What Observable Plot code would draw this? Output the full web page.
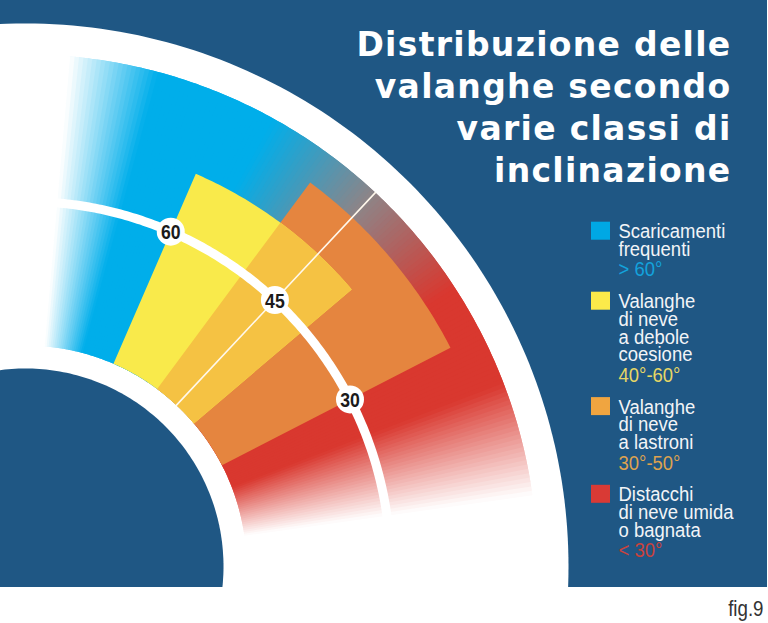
<!DOCTYPE html>
<html>
<head>
<meta charset="utf-8">
<script src="https://cdn.jsdelivr.net/npm/d3@7"></script>
<script src="https://cdn.jsdelivr.net/npm/@observablehq/plot@0.6"></script>
<style>
  html, body { margin: 0; padding: 0; background: #ffffff; }
  #chart svg { display: block; }
</style>
</head>
<body>
<div id="chart"></div>
<script>
// ---------------- data ----------------
const classLines = [
  ["Scaricamenti", "frequenti"],
  ["Valanghe", "di neve", "a debole", "coesione"],
  ["Valanghe", "di neve", "a lastroni"],
  ["Distacchi", "di neve umida", "o bagnata"]
];
const classRanges = ["> 60°", "40°-60°", "30°-50°", "< 30°"];
const classMin = [60, 40, 30, 0];
const classMax = [90, 60, 50, 30];
const classColors = ["#00AEEA", "#F9EA4B", "#E5853F", "#D9382F"];
const legendColors = ["#00A8E4", "#FCEA4A", "#F0A540", "#D93A35"];
const rangeTextColors = ["#13A2DC", "#E6D665", "#DDA250", "#C9423C"];
const overlapColor = "#F5C243";
const slopeTicks = [60, 45, 30];
const guideSlope = 45;
const titleLines = ["Distribuzione delle", "valanghe secondo", "varie classi di", "inclinazione"];
const figLabel = "fig.9";

// ---------------- layout ----------------
const W = 768, H = 623;
const BG = "#1F5784";
const CX = 25, CY = 566;            // centre of the quarter-circle diagram
const R0 = 198, R1 = 221, RMID = 365, RY = 428, RO = 478, R2 = 512, R3 = 543;
const BLUE_BOTTOM = 587, BLUE_RIGHT = 767;
// slope angle (deg) -> drawing angle (deg)
const phi = d3.scaleLinear().domain([0, 90]).range([-12.05, 105.85]);
const rad = d => d * Math.PI / 180;
const P = (r, a) => [CX + r * Math.cos(rad(a)), CY - r * Math.sin(rad(a))];

function sector(id, r1, r2, a1, a2, color, step = 0.5) {
  const n = Math.max(1, Math.ceil(Math.abs(a2 - a1) / step));
  const pts = [];
  for (let i = 0; i <= n; i++) { const [x, y] = P(r2, a1 + (a2 - a1) * i / n); pts.push({id, x, y, color}); }
  if (r1 > 0) {
    for (let i = n; i >= 0; i--) { const [x, y] = P(r1, a1 + (a2 - a1) * i / n); pts.push({id, x, y, color}); }
  }
  return pts;
}
function arc(id, r, a1, a2, step = 0.5) {
  const n = Math.ceil(Math.abs(a2 - a1) / step);
  return d3.range(n + 1).map(i => { const [x, y] = P(r, a1 + (a2 - a1) * i / n); return {id, x, y}; });
}

// angular colour field behind the wedges (white -> red -> grey -> cyan -> white)
const cyan = classColors[0], red = classColors[3];
const fieldStops = [[-40, "#ffffff"], [8, "#ffffff"], [21, red], [33, red], [47, "#8E8487"], [61, cyan], [75, cyan], [85, "#ffffff"], [140, "#ffffff"]];
function fieldColor(a) {
  for (let i = 0; i < fieldStops.length - 1; i++) {
    const [a0, c0] = fieldStops[i], [a1, c1] = fieldStops[i + 1];
    if (a >= a0 && a <= a1) return d3.interpolateRgb(c0, c1)((a - a0) / (a1 - a0));
  }
  return "#ffffff";
}
const field = [];
const FSTEP = 0.5;
for (let a = -14, k = 0; a < 112; a += FSTEP, k++) {
  // slices overlap their neighbour by one step so no seams show
  field.push(...sector("f" + k, R1, R2, a, a + 2 * FSTEP, fieldColor(a + FSTEP / 2), FSTEP));
}

// class wedges: yellow (40-60), orange (30-50) and their overlap
const wedges = [
  ...sector("orange", R1, RO, phi(classMin[2]), phi(classMax[2]), classColors[2]),
  ...sector("yellow", R1, RY, phi(classMin[1]), phi(classMax[1]), classColors[1]),
  ...sector("overlap", R1, RY, phi(Math.max(classMin[1], classMin[2])), phi(Math.min(classMax[1], classMax[2])), overlapColor)
];
const whiteDisk = sector("wd", 0, R3, 0, 360, "#ffffff", 1);
const blueDisk = sector("bd", 0, R0, 0, 360, BG, 1);
const ring = arc("ring", RMID, -15, 110);
const guide = [P(R1, phi(guideSlope)), P(R2, phi(guideSlope))].map(([x, y]) => ({x, y}));
const ticks = slopeTicks.map(t => { const [x, y] = P(RMID, phi(t)); return {t, x, y}; });

// title
const titleRows = titleLines.map((t, i) => ({t, x: 731, y: 55 + i * 42.3}));

// legend
const legendText = [], legendSw = [];
let yb = 237.7;
classLines.forEach((lines, i) => {
  legendSw.push({x1: 591, x2: 610, y1: yb - 16, y2: yb + 2, color: legendColors[i]});
  lines.forEach(t => { legendText.push({t, x: 618, y: yb, color: "#F2F4F7"}); yb += 17.7; });
  yb += 20.5 - 17.7;
  legendText.push({t: classRanges[i], x: 618, y: yb, color: rangeTextColors[i]});
  yb += 31.8;
});

const SANS = "'Liberation Sans', Arial, Helvetica, sans-serif";

const chart = Plot.plot({
  width: W, height: H, margin: 0,
  x: {domain: [0, W], range: [0, W], axis: null},
  y: {domain: [0, H], range: [0, H], axis: null},
  color: {type: "identity"},
  style: {background: "#ffffff", overflow: "hidden"},
  marks: [
    Plot.rect([{x1: 0, x2: BLUE_RIGHT, y1: 0, y2: BLUE_BOTTOM}], {x1: "x1", x2: "x2", y1: "y1", y2: "y2", fill: BG}),
    Plot.line(whiteDisk, {x: "x", y: "y", z: "id", fill: "color", stroke: "none"}),
    Plot.line(field, {x: "x", y: "y", z: "id", fill: "color", stroke: "none"}),
    Plot.line(wedges, {x: "x", y: "y", z: "id", fill: "color", stroke: "none"}),
    Plot.line(blueDisk, {x: "x", y: "y", z: "id", fill: "color", stroke: "none"}),
    Plot.rect([{x1: 0, x2: W, y1: BLUE_BOTTOM, y2: H}], {x1: "x1", x2: "x2", y1: "y1", y2: "y2", fill: "#ffffff"}),
    Plot.line(guide, {x: "x", y: "y", stroke: "#FFF8EC", strokeWidth: 1.6}),
    Plot.line(ring, {x: "x", y: "y", stroke: "#ffffff", strokeWidth: 9}),
    Plot.dot(ticks, {x: "x", y: "y", r: 14, fill: "#ffffff", stroke: "none"}),
    Plot.text(ticks, {x: "x", y: "y", text: d => String(d.t), fontSize: 21, fontWeight: "bold", fontFamily: SANS, fill: "#1B1A1A", dy: 1, ariaLabel: () => "ticklabel"}),
    Plot.text(titleRows, {x: "x", y: "y", text: "t", textAnchor: "end", lineAnchor: "bottom", fontSize: 33, fontWeight: "bold", fontFamily: "'DejaVu Sans', sans-serif", fill: "#ffffff", ariaLabel: () => "titleline"}),
    Plot.rect(legendSw, {x1: "x1", x2: "x2", y1: "y1", y2: "y2", fill: "color"}),
    Plot.text(legendText, {x: "x", y: "y", text: "t", textAnchor: "start", lineAnchor: "bottom", fontSize: 21, fontFamily: SANS, fill: "color", ariaLabel: () => "legendline"}),
    Plot.text([{t: figLabel, x: 763, y: 615}], {x: "x", y: "y", text: "t", textAnchor: "end", lineAnchor: "bottom", fontSize: 22, fontFamily: SANS, fill: "#333333", ariaLabel: () => "figlabel"})
  ]
});

// condense the Helvetica-Condensed-like texts horizontally
function condense(label, k) {
  d3.select(chart).selectAll(`text[aria-label="${label}"]`).each(function () {
    const t = this.getAttribute("transform");
    if (t) {
      this.setAttribute("transform", t + ` scale(${k},1)`);
    } else {
      const x = +this.getAttribute("x") || 0, y = +this.getAttribute("y") || 0;
      this.removeAttribute("x"); this.removeAttribute("y");
      this.setAttribute("transform", `translate(${x},${y}) scale(${k},1)`);
    }
  });
}
condense("legendline", 0.88);
condense("ticklabel", 0.84);
condense("figlabel", 0.85);
d3.select(chart).selectAll('text[aria-label="titleline"]').attr("letter-spacing", "1.3px");

document.getElementById("chart").appendChild(chart);
</script>
</body>
</html>
